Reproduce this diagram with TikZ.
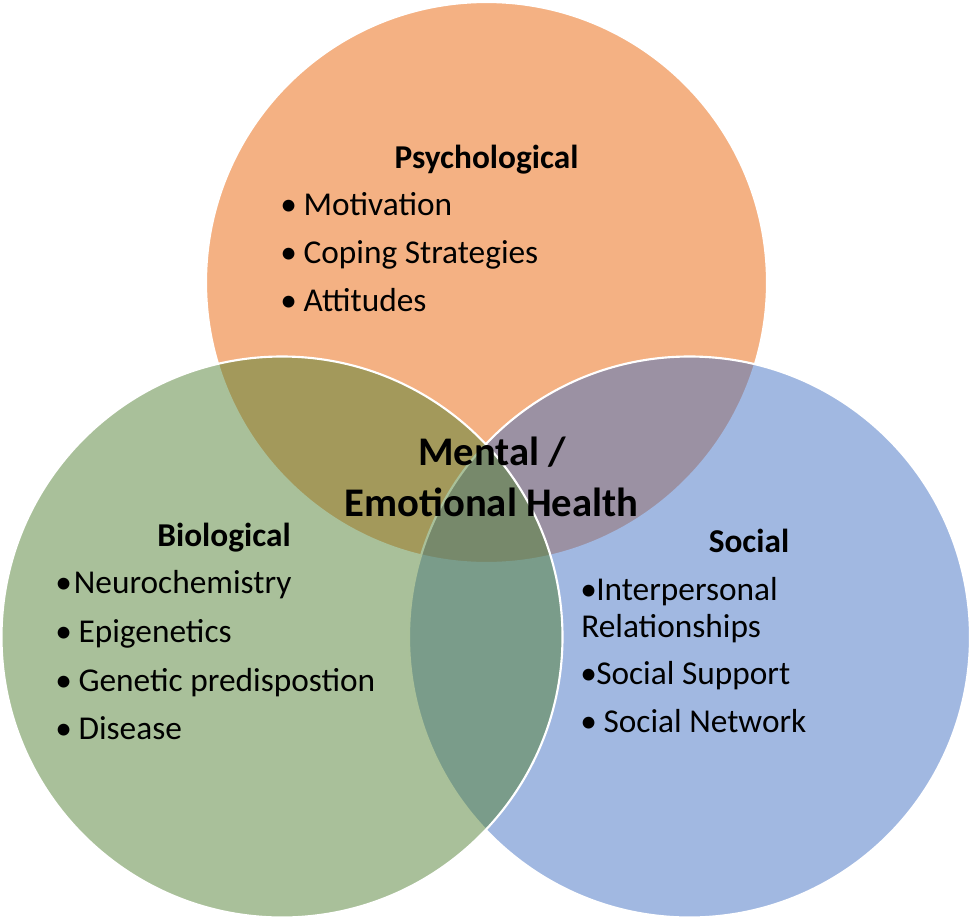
\documentclass[tikz,border=0pt]{standalone}
\usepackage{fontspec}
\setmainfont{Carlito}
\begin{document}
\begin{tikzpicture}[x=0.75pt,y=-0.75pt]
\definecolor{orng}{RGB}{244,177,131}
\definecolor{grn}{RGB}{84,130,53}
\definecolor{blu}{RGB}{68,114,196}
\tikzset{
  venn/.style={circle, minimum size=420.75pt, inner sep=0pt, draw=white, line width=1.6pt},
  head/.style={font=\bfseries\fontsize{25}{30}\selectfont, anchor=base, inner sep=0pt},
  big/.style={font=\bfseries\fontsize{30.5}{36}\selectfont, anchor=base, inner sep=0pt},
  item/.style={font=\fontsize{25}{30}\selectfont, anchor=base west, inner sep=0pt}
}
\newcommand\bitem[2]{\makebox[#1pt][l]{•}#2}
\path[use as bounding box] (0,0) rectangle (973,920);
% circles
\node[venn, fill=orng] (psy) at (486.5,282.5) {};
\node[venn, fill=blu, fill opacity=0.5] (soc) at (689.5,637) {};
\node[venn, fill=grn, fill opacity=0.5] (bio) at (282,637) {};
% psychological
\node[head] (psyh) at (486.5,168) {Psychological};
\node[item] (p1) at (280,215) {\bitem{17.5}{Motivation}};
\node[item] (p2) at (280,263) {\bitem{17.5}{Coping Strategies}};
\node[item] (p3) at (280,311) {\bitem{17.5}{Attitudes}};
% center
\node[big] (m1) at (492,465) {Mental /};
\node[big] (m2) at (491.5,516) {Emotional Health};
% biological
\node[head] (bioh) at (224,546) {Biological};
\node[item] (b1) at (55,593) {\bitem{14}{Neurochemistry}};
\node[item] (b2) at (55,642) {\bitem{17.5}{Epigenetics}};
\node[item] (b3) at (55,691) {\bitem{17.5}{Genetic predispostion}};
\node[item] (b4) at (55,739) {\bitem{17.5}{Disease}};
% social
\node[head] (soch) at (749,552) {Social};
\node[item] (s1) at (580,600) {\bitem{12}{Interpersonal}};
\node[item] (s1b) at (581,637) {Relationships};
\node[item] (s2) at (580,684) {\bitem{12}{Social Support}};
\node[item] (s3) at (580,732) {\bitem{17.5}{Social Network}};
\end{tikzpicture}
\end{document}
